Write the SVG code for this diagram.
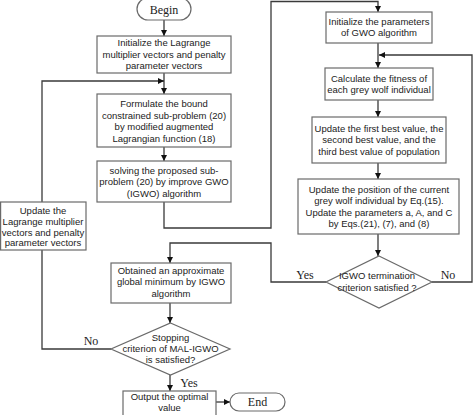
<svg xmlns="http://www.w3.org/2000/svg" width="474" height="415" viewBox="0 0 474 415">
<style>
.b{fill:#fff;stroke:#6a6a6a;stroke-width:1.2}
.t{font-family:"Liberation Sans",Arial,sans-serif;font-size:9.5px;fill:#222;text-anchor:middle}
.s{font-family:"Liberation Serif","Times New Roman",serif;font-size:12px;fill:#222;text-anchor:middle}
.c{fill:none;stroke:#3a3a3a;stroke-width:1.3}
</style>
<defs>
<marker id="a" viewBox="0 0 8 8" refX="8" refY="4" markerWidth="6" markerHeight="6" markerUnits="userSpaceOnUse" orient="auto">
<path d="M0,0L8,4L0,8z" fill="#111"/>
</marker>
</defs>
<rect width="474" height="415" fill="#fff"/>
<g id="connectors">
<path class="c" d="M164,20V36" marker-end="url(#a)"/>
<path class="c" d="M164,73V94" marker-end="url(#a)"/>
<path class="c" d="M42,202V81H164" marker-end="url(#a)"/>
<path class="c" d="M164,147V161" marker-end="url(#a)"/>
<path class="c" d="M164,202V228H271V1.5H378V12" marker-end="url(#a)"/>
<path class="c" d="M378,43V68" marker-end="url(#a)"/>
<path class="c" d="M378,100V117" marker-end="url(#a)"/>
<path class="c" d="M378,163V179" marker-end="url(#a)"/>
<path class="c" d="M378,234V256" marker-end="url(#a)"/>
<path class="c" d="M432,282H472V55H379" marker-end="url(#a)"/>
<path class="c" d="M326,282H271V243H170V263" marker-end="url(#a)"/>
<path class="c" d="M170,303V323" marker-end="url(#a)"/>
<path class="c" d="M111,349H42V250"/>
<path class="c" d="M170,375V391" marker-end="url(#a)"/>
<path class="c" d="M216,402H230" marker-end="url(#a)"/>
<text class="s" x="91" y="345">No</text>
<text class="s" x="189" y="387">Yes</text>
<text class="s" x="305" y="279">Yes</text>
<text class="s" x="448" y="279">No</text>
</g>
<g id="begin">
<rect class="b" x="137" y="-2" width="54" height="22" rx="11"/>
<text class="s" x="164" y="14">Begin</text>
</g>
<g id="init-lagrange">
<rect class="b" x="97" y="36" width="134" height="37"/>
<text class="t" x="164" y="46.4">Initialize the Lagrange</text>
<text class="t" x="164" y="57.9">multiplier vectors and penalty</text>
<text class="t" x="164" y="69.4">parameter vectors</text>
</g>
<g id="formulate">
<rect class="b" x="97" y="94" width="134" height="53"/>
<text class="t" x="164" y="107.2">Formulate the bound</text>
<text class="t" x="164" y="118.7">constrained sub-problem (20)</text>
<text class="t" x="164" y="130.2">by modified augmented</text>
<text class="t" x="164" y="141.7">Lagrangian function (18)</text>
</g>
<g id="solve">
<rect class="b" x="97" y="161" width="134" height="41"/>
<text class="t" x="164" y="173.6">solving the proposed sub-</text>
<text class="t" x="164" y="185.1">problem (20) by improve GWO</text>
<text class="t" x="164" y="196.6">(IGWO) algorithm</text>
</g>
<g id="update-lagrange">
<rect class="b" x="0.6" y="202" width="85.4" height="48"/>
<text class="t" x="43" y="213.6">Update the</text>
<text class="t" x="43" y="224.6">Lagrange multiplier</text>
<text class="t" x="43" y="235.6">vectors and penalty</text>
<text class="t" x="43" y="246.4">parameter vectors</text>
</g>
<g id="obtained">
<rect class="b" x="111" y="263" width="120" height="40"/>
<text class="t" x="171" y="273.6">Obtained an approximate</text>
<text class="t" x="171" y="285.1">global minimum by IGWO</text>
<text class="t" x="171" y="296.6">algorithm</text>
</g>
<g id="stopping">
<polygon class="b" points="170.5,323 230,349 170.5,375 111,349"/>
<text class="t" x="170.5" y="341.4">Stopping</text>
<text class="t" x="170.5" y="352.4">criterion of MAL-IGWO</text>
<text class="t" x="170.5" y="363.4">is satisfied?</text>
</g>
<g id="output">
<rect class="b" x="123" y="391" width="93" height="30"/>
<text class="t" x="169.5" y="400.4">Output the optimal</text>
<text class="t" x="169.5" y="411.4">value</text>
</g>
<g id="end">
<rect class="b" x="230" y="393" width="55" height="18" rx="9"/>
<text class="s" x="257.5" y="406.2">End</text>
</g>
<g id="init-gwo">
<rect class="b" x="326" y="12" width="106" height="31"/>
<text class="t" x="379" y="25.4">Initialize the parameters</text>
<text class="t" x="379" y="36.4">of GWO algorithm</text>
</g>
<g id="fitness">
<rect class="b" x="325" y="68" width="108" height="32"/>
<text class="t" x="379" y="82">Calculate the fitness of</text>
<text class="t" x="379" y="93">each grey wolf individual</text>
</g>
<g id="best">
<rect class="b" x="312" y="117" width="134" height="46"/>
<text class="t" x="379" y="131.6">Update the first best value, the</text>
<text class="t" x="379" y="143.1">second best value, and the</text>
<text class="t" x="379" y="154.6">third best value of population</text>
</g>
<g id="position">
<rect class="b" x="298" y="179" width="161" height="55"/>
<text class="t" x="379" y="193">Update the position of the current</text>
<text class="t" x="379" y="204.3">grey wolf individual by Eq.(15).</text>
<text class="t" x="379" y="215.6">Update the parameters a, A, and C</text>
<text class="t" x="379" y="226.9">by Eqs.(21), (7), and (8)</text>
</g>
<g id="igwo-term">
<polygon class="b" points="379,256 432,282 379,308 326,282"/>
<text class="t" x="377" y="279.4">IGWO termination</text>
<text class="t" x="377" y="291.4">criterion satisfied ?</text>
</g>
</svg>
